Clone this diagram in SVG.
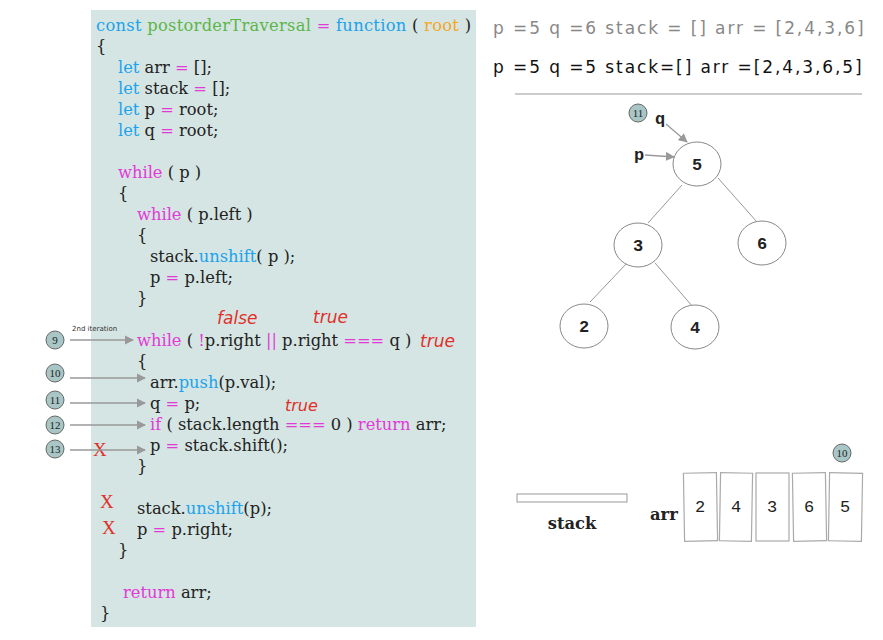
<svg xmlns="http://www.w3.org/2000/svg" width="883" height="640" viewBox="0 0 883 640">
<style>
.code{font-family:"DejaVu Serif","Liberation Serif",serif;font-size:16.3px;fill:#222}
.b{fill:#1aa3ee}.g{fill:#5cb548}.o{fill:#f5a623}.m{fill:#e23ad8}
.red{font-family:"DejaVu Sans",sans-serif;font-size:17px;fill:#e0302a;font-style:italic}
.num{font-family:"Liberation Serif",serif;font-size:11px;fill:#222;text-anchor:middle}
.badge{fill:#a9c6c6;stroke:#666;stroke-width:1}
.ptr{stroke:#999;stroke-width:1.3;fill:none}
.hand{font-family:"DejaVu Sans",sans-serif;font-size:17px;letter-spacing:1.9px}
.node{fill:#fff;stroke:#888;stroke-width:1}
.nl{font-family:"Liberation Mono","DejaVu Sans Mono",monospace;font-size:17px;font-weight:bold;fill:#222;text-anchor:middle}
.edge{stroke:#999;stroke-width:1}
.box{fill:#fff;stroke:#aaa;stroke-width:1.2}
</style>
<defs>
<marker id="ah" viewBox="0 0 10 10" refX="9" refY="5" markerWidth="7" markerHeight="7" orient="auto"><path d="M0,0 L10,5 L0,10 z" fill="#999"/></marker>
</defs>

<g id="codepanel">
<rect x="91" y="10" width="385" height="617" fill="#d5e5e3"/>
<text class="code" x="96" y="31" textLength="375"><tspan class="b">const </tspan><tspan class="g">postorderTraversal </tspan><tspan class="m">= </tspan><tspan class="b">function </tspan>( <tspan class="o">root </tspan>)</text>
<text class="code" x="96" y="52">{</text>
<text class="code" x="118" y="73"><tspan class="b">let </tspan>arr <tspan class="m">= </tspan>[];</text>
<text class="code" x="118" y="94"><tspan class="b">let </tspan>stack <tspan class="m">= </tspan>[];</text>
<text class="code" x="118" y="115"><tspan class="b">let </tspan>p <tspan class="m">= </tspan>root;</text>
<text class="code" x="118" y="136"><tspan class="b">let </tspan>q <tspan class="m">= </tspan>root;</text>
<text class="code" x="118" y="178"><tspan class="m">while </tspan>( p )</text>
<text class="code" x="118" y="199">{</text>
<text class="code" x="137" y="220"><tspan class="m">while </tspan>( p.left )</text>
<text class="code" x="137" y="241">{</text>
<text class="code" x="150" y="262">stack.<tspan class="b">unshift</tspan>( p );</text>
<text class="code" x="150" y="283">p <tspan class="m">= </tspan>p.left;</text>
<text class="code" x="137" y="304">}</text>
<text class="code" x="137" y="346"><tspan class="m">while </tspan>( <tspan class="m">!</tspan>p.right <tspan class="m">|| </tspan>p.right <tspan class="m">=== </tspan>q )</text>
<text class="code" x="137" y="367">{</text>
<text class="code" x="150" y="388">arr.<tspan class="b">push</tspan>(p.val);</text>
<text class="code" x="150" y="409">q <tspan class="m">= </tspan>p;</text>
<text class="code" x="150" y="430"><tspan class="m">if </tspan>( stack.length <tspan class="m">=== </tspan>0 ) <tspan class="m">return </tspan>arr;</text>
<text class="code" x="150" y="451">p <tspan class="m">= </tspan>stack.shift();</text>
<text class="code" x="137" y="472">}</text>
<text class="code" x="137" y="514">stack.<tspan class="b">unshift</tspan>(p);</text>
<text class="code" x="137" y="535">p <tspan class="m">= </tspan>p.right;</text>
<text class="code" x="118" y="556">}</text>
<text class="code" x="123" y="598"><tspan class="m">return </tspan>arr;</text>
<text class="code" x="100" y="619">}</text>
</g>

<g id="annotations">
<text class="red" x="217" y="324">false</text>
<text class="red" x="313" y="323">true</text>
<text class="red" x="420" y="347">true</text>
<text class="red" x="285" y="411" style="font-size:16px">true</text>
<text x="93" y="456" style="font-family:'Liberation Serif',serif;fill:#e0302a;font-size:19px">X</text>
<text x="100" y="508" style="font-family:'Liberation Serif',serif;fill:#e0302a;font-size:19px">X</text>
<text x="102" y="534" style="font-family:'Liberation Serif',serif;fill:#e0302a;font-size:19px">X</text>
<text x="72" y="331" style="font-family:'DejaVu Sans',sans-serif;font-size:7px;fill:#333">2nd iteration</text>
</g>

<g id="connectors">
<line class="ptr" x1="70" y1="340" x2="133" y2="340" marker-end="url(#ah)"/>
<line class="ptr" x1="70" y1="378" x2="145" y2="378" marker-end="url(#ah)"/>
<line class="ptr" x1="70" y1="403" x2="145" y2="403" marker-end="url(#ah)"/>
<line class="ptr" x1="70" y1="425" x2="145" y2="425" marker-end="url(#ah)"/>
<line class="ptr" x1="70" y1="450" x2="145" y2="450" marker-end="url(#ah)"/>
<line class="ptr" x1="666" y1="124" x2="687" y2="142" marker-end="url(#ah)"/>
<line class="ptr" x1="645" y1="155" x2="674" y2="157" marker-end="url(#ah)"/>
<line class="edge" x1="682" y1="185" x2="648" y2="223"/>
<line class="edge" x1="718" y1="178" x2="757" y2="222"/>
<line class="edge" x1="627" y1="263" x2="590" y2="302"/>
<line class="edge" x1="655" y1="263" x2="693" y2="307"/>
</g>

<g id="badge9"><circle class="badge" cx="55" cy="340" r="9"/><text class="num" x="55" y="344">9</text></g>
<g id="badge10"><circle class="badge" cx="55" cy="373" r="9"/><text class="num" x="55" y="377">10</text></g>
<g id="badge11"><circle class="badge" cx="55" cy="400" r="9"/><text class="num" x="55" y="404">11</text></g>
<g id="badge12"><circle class="badge" cx="55" cy="425" r="9"/><text class="num" x="55" y="429">12</text></g>
<g id="badge13"><circle class="badge" cx="55" cy="449" r="9"/><text class="num" x="55" y="453">13</text></g>

<g id="state">
<text class="hand" x="493" y="34" fill="#888">p =5  q =6 stack = [] arr = [2,4,3,6]</text>
<text class="hand" x="493" y="73" fill="#111">p =5  q =5 stack=[] arr =[2,4,3,6,5]</text>
<line x1="515" y1="94" x2="862" y2="94" stroke="#ccc" stroke-width="2"/>
</g>

<g id="badgeTree11"><circle class="badge" cx="638" cy="113" r="9"/><text class="num" x="638" y="117">11</text></g>
<g id="labelq"><text class="nl" x="660" y="124">q</text></g>
<g id="labelp"><text class="nl" x="639" y="160">p</text></g>

<g id="node5"><ellipse class="node" cx="697" cy="164" rx="24" ry="22"/><text class="nl" x="697" y="170">5</text></g>
<g id="node3"><ellipse class="node" cx="638" cy="245" rx="24" ry="22"/><text class="nl" x="638" y="251">3</text></g>
<g id="node6"><ellipse class="node" cx="762" cy="243" rx="24" ry="22"/><text class="nl" x="762" y="249">6</text></g>
<g id="node2"><ellipse class="node" cx="584" cy="326" rx="24" ry="22"/><text class="nl" x="584" y="332">2</text></g>
<g id="node4"><ellipse class="node" cx="695" cy="327" rx="24" ry="22"/><text class="nl" x="695" y="333">4</text></g>

<g id="stack">
<rect x="517" y="494" width="110" height="8" fill="#fff" stroke="#999" stroke-width="1"/>
<text class="code" x="572" y="529" text-anchor="middle" style="font-weight:bold">stack</text>
</g>

<g id="arr">
<text class="code" x="650" y="520" style="font-weight:bold">arr</text>
<rect class="box" x="684" y="473" width="33" height="68" transform="rotate(-1 700 507)"/>
<text class="nl" x="700" y="512" style="font-weight:normal">2</text>
<rect class="box" x="720" y="473" width="32" height="68" transform="rotate(1 736 507)"/>
<text class="nl" x="736" y="512" style="font-weight:normal">4</text>
<rect class="box" x="756" y="473" width="33" height="68"/>
<text class="nl" x="772" y="512" style="font-weight:normal">3</text>
<rect class="box" x="793" y="473" width="33" height="68" transform="rotate(-1 809 507)"/>
<text class="nl" x="809" y="512" style="font-weight:normal">6</text>
<rect class="box" x="829" y="473" width="33" height="68" transform="rotate(1 845 507)"/>
<text class="nl" x="845" y="512" style="font-weight:normal">5</text>
</g>
<g id="badgeArr10"><circle class="badge" cx="842" cy="453" r="9"/><text class="num" x="842" y="457">10</text></g>
</svg>
